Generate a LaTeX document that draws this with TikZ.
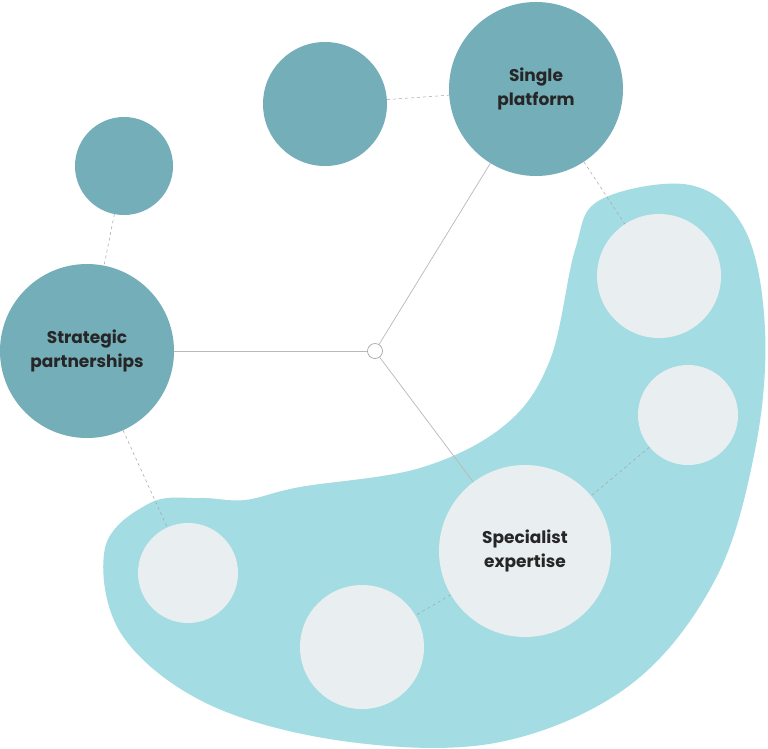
\documentclass[tikz,border=0pt]{standalone}
\usepackage{fontspec}
\setmainfont{Poppins}
\begin{document}
\begin{tikzpicture}[x=1pt,y=-1pt,
  dark/.style={circle,fill=teal1,minimum size=#1,inner sep=0pt,align=center,font=\bfseries\fontsize{17}{24}\selectfont,text=black!85},
  light/.style={circle,fill=grey1,minimum size=#1,inner sep=0pt,align=center,font=\bfseries\fontsize{17}{24}\selectfont,text=black!85},
  dashl/.style={draw=gray!70,dashed,line width=0.5pt},
  solidl/.style={draw=gray!55,line width=0.7pt}]
\definecolor{teal1}{HTML}{74AEB9}
\definecolor{grey1}{HTML}{E9EEF0}
\definecolor{blob}{HTML}{A3DCE2}
\useasboundingbox[fill=white] (0,0) rectangle (768,748);
\fill[blob] plot[smooth cycle,tension=0.6] coordinates {(600,200)(690,185)(745,230)(765,330)(755,450)(715,580)(630,685)(500,742)(350,742)(210,705)(122,635)(105,548)(150,503)(200,498)(245,500)(300,487)(420,468)(505,425)(550,360)(575,250)};
\node[dark=98pt] (c1) at (124,166) {};
\node[dark=124pt] (c2) at (325,104) {};
\node[dark=174pt] (sp) at (536,89) {Single\\platform};
\node[dark=174pt] (st) at (87,351) {Strategic\\partnerships};
\node[light=124pt] (l1) at (659,276) {};
\node[light=100pt] (l2) at (688,415) {};
\node[light=172pt] (se) at (525,551) {Specialist\\expertise};
\node[light=124pt] (l4) at (362,647) {};
\node[light=100pt] (l5) at (188,573) {};
\node[circle,draw=gray!70,fill=white,minimum size=15pt,inner sep=0pt,line width=0.7pt] (hub) at (375,351) {};
\draw[solidl] (hub) -- (st);
\draw[solidl] (hub) -- (sp);
\draw[solidl] (hub) -- (se);
\draw[dashl] (c1) -- (st);
\draw[dashl] (c2) -- (sp);
\draw[dashl] (sp) -- (l1);
\draw[dashl] (l2) -- (se);
\draw[dashl] (se) -- (l4);
\draw[dashl] (st) -- (l5);
\end{tikzpicture}
\end{document}
